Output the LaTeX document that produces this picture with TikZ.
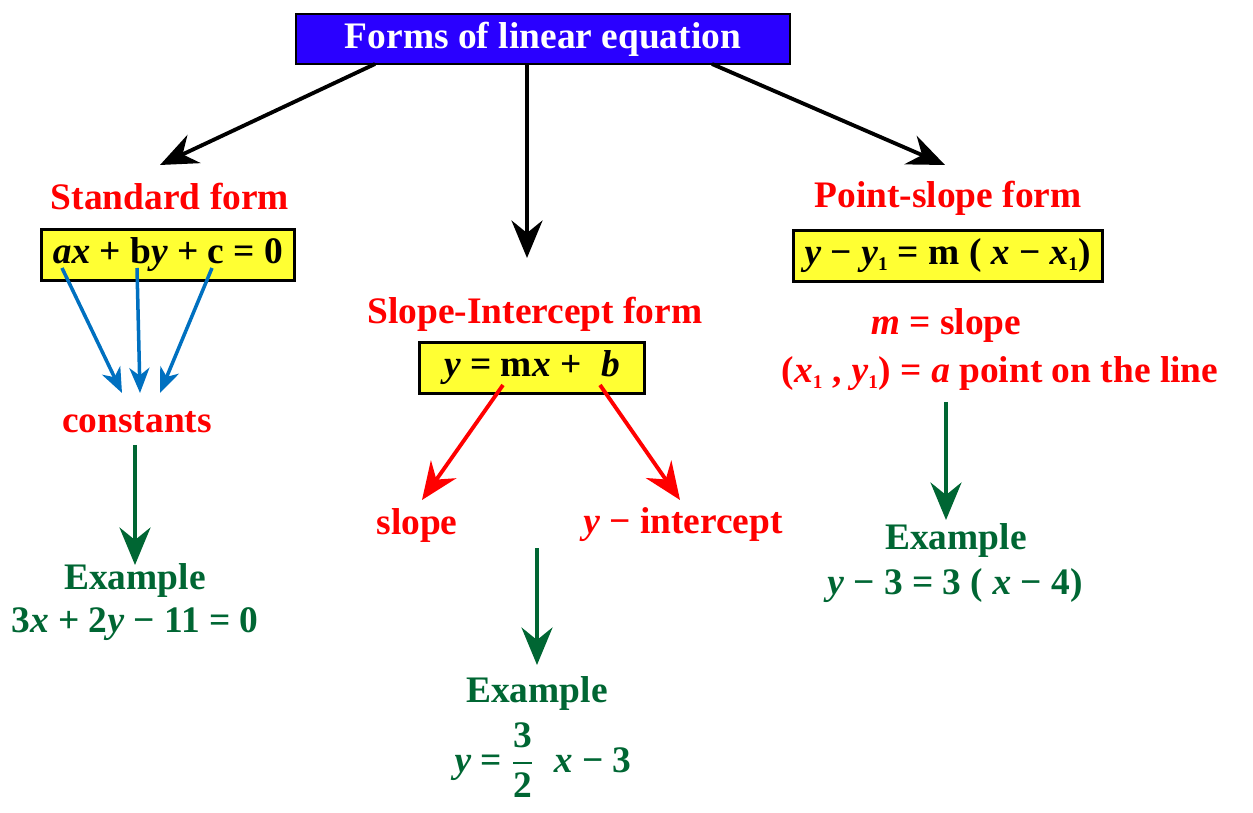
\documentclass[tikz,border=0pt]{standalone}
\usepackage{fontspec}
\usepackage{amsmath}
\setmainfont{Liberation Serif}
\usetikzlibrary{arrows.meta}
\definecolor{tblue}{HTML}{2A00FF}
\definecolor{tred}{HTML}{FF0000}
\definecolor{tgreen}{HTML}{006633}
\definecolor{tarr}{HTML}{0070C0}
\definecolor{tyel}{HTML}{FFFF33}
\newcommand{\sbs}[1]{\textsubscript{\fontsize{11}{12}\selectfont #1}}
\tikzset{
 x=0.02cm,y=-0.02cm,
 lbl/.style={font=\fontsize{21.3}{24}\selectfont\bfseries,inner sep=0pt},
 redlbl/.style={lbl,text=tred},
 greenlbl/.style={lbl,text=tgreen},
 eqbox/.style={lbl,draw=black,line width=1.7pt,fill=tyel,minimum height=1.02cm,inner xsep=4pt},
 bigarr/.style={line width=2.2pt,-{Stealth[length=0.75cm,width=0.62cm,inset=0.25cm]}},
 smallarr/.style={line width=2pt,-{Stealth[length=0.5cm,width=0.4cm,inset=0.15cm]}}
}
\begin{document}
\begin{tikzpicture}
\useasboundingbox (0,0) rectangle (1253,813);
\node[lbl,draw=black,line width=1pt,fill=tblue,text=white,minimum width=9.88cm,minimum height=1cm] (title) at (543,39) {Forms of linear equation};
\coordinate (t1) at (375,64); \coordinate (t2) at (527,64); \coordinate (t3) at (712,64);
\coordinate (h1) at (160,165); \coordinate (h2) at (527,258); \coordinate (h3) at (945,165);
\draw[bigarr] (t1) -- (h1);
\draw[bigarr] (t2) -- (h2);
\draw[bigarr] (t3) -- (h3);
% standard
\node[redlbl] (std) at (170,197) {Standard form};
\node[eqbox,minimum width=5.06cm] (stdeq) at (168,255) {\textit{ax} + b\textit{y} + c = 0};
\coordinate (b1) at (62,268); \coordinate (b2) at (137,268); \coordinate (b3) at (212,268);
\coordinate (c1) at (122,393); \coordinate (c2) at (140,393); \coordinate (c3) at (160,393);
\draw[smallarr,draw=tarr,color=tarr] (b1) -- (c1);
\draw[smallarr,draw=tarr,color=tarr] (b2) -- (c2);
\draw[smallarr,draw=tarr,color=tarr] (b3) -- (c3);
\node[redlbl] (const) at (137,422) {constants};
\draw[bigarr,tgreen] (135,445) -- (135,565);
\node[greenlbl] (ex1) at (135,580) {Example};
\node[greenlbl] (ex1eq) at (135,624) {3\textit{x} + 2\textit{y} − 11 = 0};
% slope-intercept
\node[redlbl] (si) at (535,314) {Slope-Intercept form};
\node[eqbox,minimum width=4.5cm] (sieq) at (532,368) {\textit{y} = m\textit{x} +\; \textit{b}};
\draw[bigarr,tred] (503,385) -- (422,500);
\draw[bigarr,tred] (600,385) -- (680,500);
\node[redlbl] (slope) at (417,525) {slope};
\node[redlbl] (yint) at (683,525) {\textit{y} − intercept};
\draw[bigarr,tgreen] (537,548) -- (537,665);
\node[greenlbl] (ex2) at (537,693) {Example};
\node[greenlbl] (ex2eq) at (543,760) {\textit{y} = $\dfrac{\text{\bfseries 3}}{\text{\bfseries 2}}$\; \textit{x} − 3};
% point-slope
\node[redlbl] (ps) at (948,198) {Point-slope form};
\node[eqbox,minimum width=6.2cm] (pseq) at (948,256) {\textit{y} − \textit{y}\sbs{1} = m ( \textit{x} − \textit{x}\sbs{1})};
\node[redlbl] (m) at (946,326) {\textit{m} = slope};
\node[redlbl] (pt) at (1000,374) {(\textit{x}\sbs{1} , \textit{y}\sbs{1}) = \textit{a} point on the line};
\draw[bigarr,tgreen] (946,402) -- (946,520);
\node[greenlbl] (ex3) at (956,540) {Example};
\node[greenlbl] (ex3eq) at (955,586) {\textit{y} − 3 = 3 ( \textit{x} − 4)};
\end{tikzpicture}
\end{document}
